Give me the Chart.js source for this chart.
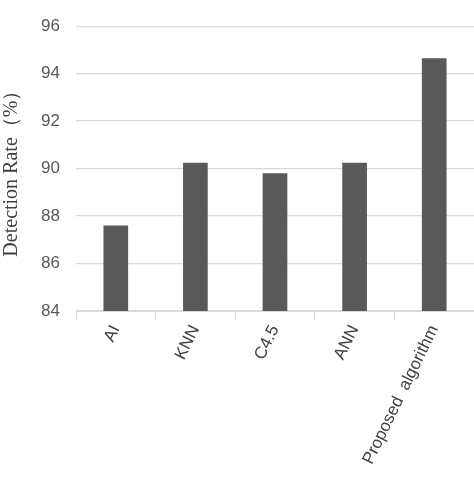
<!DOCTYPE html>
<html>
<head>
<meta charset="utf-8">
<script src="https://cdn.jsdelivr.net/npm/chart.js@4"></script>
<style>
html,body{margin:0;padding:0;background:#fff;}
#wrap{width:474px;height:477px;}
</style>
</head>
<body>
<div id="wrap"><canvas id="c"></canvas></div>
<script>
const categories = ['AI', 'KNN', 'C4.5', 'ANN', 'Proposed  algorithm'];
const detectionRate = [87.6, 90.25, 89.8, 90.25, 94.65];
const yMin = 84, yMax = 96, yStep = 2;

new Chart(document.getElementById('c'), {
    type: 'bar',
    data: {
        labels: categories,
        datasets: [{
            data: detectionRate,
            backgroundColor: '#595959',
            barPercentage: 0.62,
            categoryPercentage: 0.5
        }]
    },
    options: {
        responsive: true,
        maintainAspectRatio: false,
        animation: false,
        layout: { padding: { top: -11, right: 0, left: 0, bottom: 0 } },
        plugins: { legend: { display: false }, tooltip: { enabled: false } },
        scales: {
            x: {
                grid: { drawOnChartArea: false, drawTicks: true, tickLength: 9, color: '#d9d9d9', offset: true },
                border: { color: '#d9d9d9' },
                ticks: {
                    color: '#404040', minRotation: 64, maxRotation: 64, padding: 2,
                    font: { family: 'Liberation Sans', size: 17 }
                },
                afterFit: s => { s.height = 166; }
            },
            y: {
                min: yMin, max: yMax,
                grid: { color: '#d9d9d9', drawTicks: false, lineWidth: 1.3 },
                border: { display: false },
                ticks: {
                    stepSize: yStep, color: '#595959', padding: 16,
                    font: { family: 'Liberation Sans', size: 17 }
                },
                title: {
                    display: true, text: 'Detection Rate（%）', color: '#404040', padding: 0,
                    font: { family: 'Liberation Serif', size: 20 }
                },
                afterFit: s => { s.width = 76; }
            }
        }
    }
});
</script>
</body>
</html>
